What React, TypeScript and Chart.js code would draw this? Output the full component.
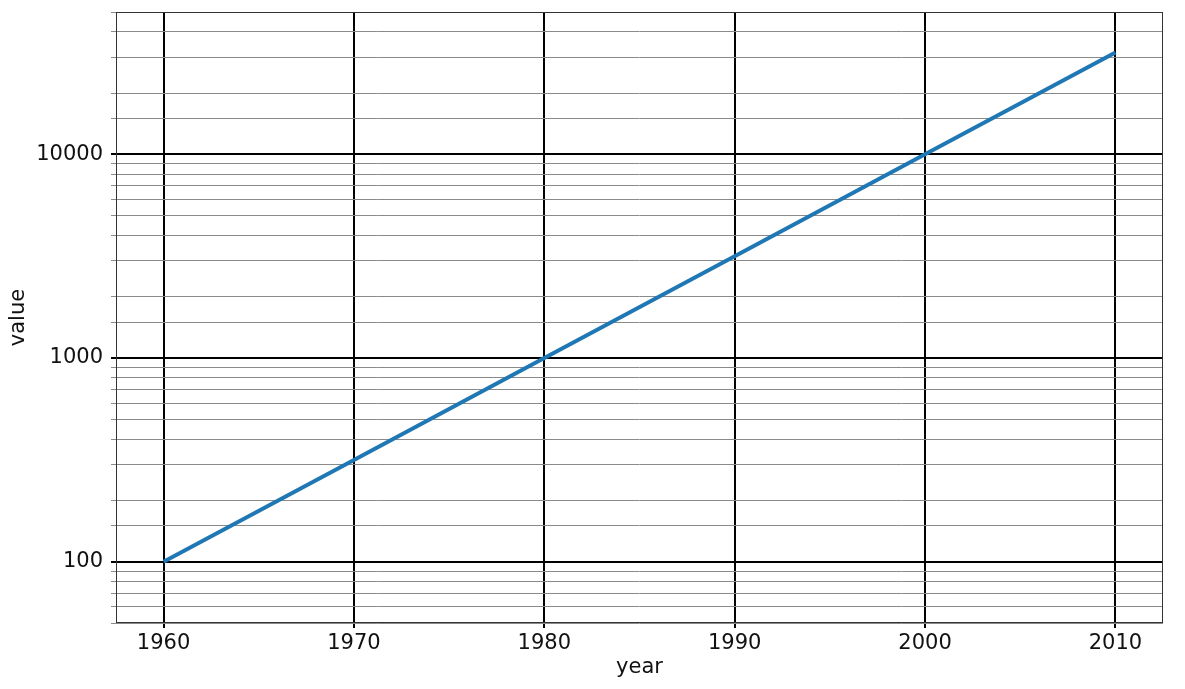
import React, { useEffect, useRef } from "react";
import { Chart, registerables } from "chart.js";

Chart.register(...registerables);

const years = [1960, 1970, 1980, 1990, 2000, 2010];
const values = [100, 316, 1000, 3162, 10000, 31623];
const xTicks = [1960, 1970, 1980, 1990, 2000, 2010];
const yLabels = [100, 1000, 10000];

const FONT = "'DejaVu Sans', sans-serif";

const isMajor = (v: number) => {
  const l = Math.log10(v);
  return Math.abs(l - Math.round(l)) < 1e-9;
};

const frame = {
  id: "frame",
  afterDatasetsDraw(chart: any) {
    const { ctx, chartArea: a } = chart;
    ctx.save();
    ctx.strokeStyle = "#333";
    ctx.lineWidth = 1;
    ctx.strokeRect(Math.round(a.left) + 0.5, Math.round(a.top) + 0.5, Math.round(a.right - a.left) - 1, Math.round(a.bottom - a.top) - 1);
    ctx.restore();
  },
};

export default function App() {
  const ref = useRef<HTMLCanvasElement | null>(null);
  useEffect(() => {
    if (!ref.current) return;
    const chart = new Chart(ref.current, {
      type: "line",
      data: {
        datasets: [
          {
            data: years.map((x, i) => ({ x, y: values[i] })),
            borderColor: "#1f77b4",
            borderWidth: 4,
            pointRadius: 0,
            fill: false,
            tension: 0,
          },
        ],
      },
      options: {
        animation: false,
        responsive: true,
        maintainAspectRatio: false,
        devicePixelRatio: 1,
        layout: { padding: { top: 12, right: 22, left: 0, bottom: 0 } },
        plugins: { legend: { display: false }, tooltip: { enabled: false } },
        scales: {
          x: {
            type: "linear",
            min: 1957.5,
            max: 2012.5,
            afterFit: (s: any) => {
              s.height = 66;
              s.paddingLeft = 0;
              s.paddingRight = 0;
            },
            afterBuildTicks: (s: any) => {
              s.ticks = xTicks.map((v) => ({ value: v }));
            },
            ticks: {
              includeBounds: false,
              autoSkip: false,
              maxRotation: 0,
              padding: 3,
              color: "#111",
              font: { family: FONT, size: 21 },
              callback: (v: any) => String(v),
            },
            grid: { color: "#000", lineWidth: 2, tickLength: 5 },
            border: { display: false },
            title: {
              display: true,
              text: "year",
              color: "#111",
              font: { family: FONT, size: 21 },
              padding: { top: 0, bottom: 9 },
            },
          },
          y: {
            type: "logarithmic",
            min: 50,
            max: 50000,
            afterFit: (s: any) => {
              s.width = 116;
              s.paddingTop = 0;
              s.paddingBottom = 0;
            },
            ticks: {
              autoSkip: false,
              padding: 8,
              color: "#111",
              font: { family: FONT, size: 21 },
              callback: (v: any) => (yLabels.includes(Number(v)) ? String(v) : ""),
            },
            grid: {
              color: (c: any) => (c.tick && isMajor(c.tick.value) ? "#000" : "#8a8a8a"),
              lineWidth: (c: any) => (c.tick && isMajor(c.tick.value) ? 2 : 1),
              tickLength: 5,
            },
            border: { display: false },
            title: {
              display: true,
              text: "value",
              color: "#111",
              font: { family: FONT, size: 21 },
              padding: { top: 6, bottom: 0 },
            },
          },
        },
      },
      plugins: [frame],
    });
    return () => chart.destroy();
  }, []);
  return (
    <div style={{ position: "absolute", left: 0, top: 0, width: 1185, height: 689, background: "#fff" }}>
      <canvas ref={ref} />
    </div>
  );
}
